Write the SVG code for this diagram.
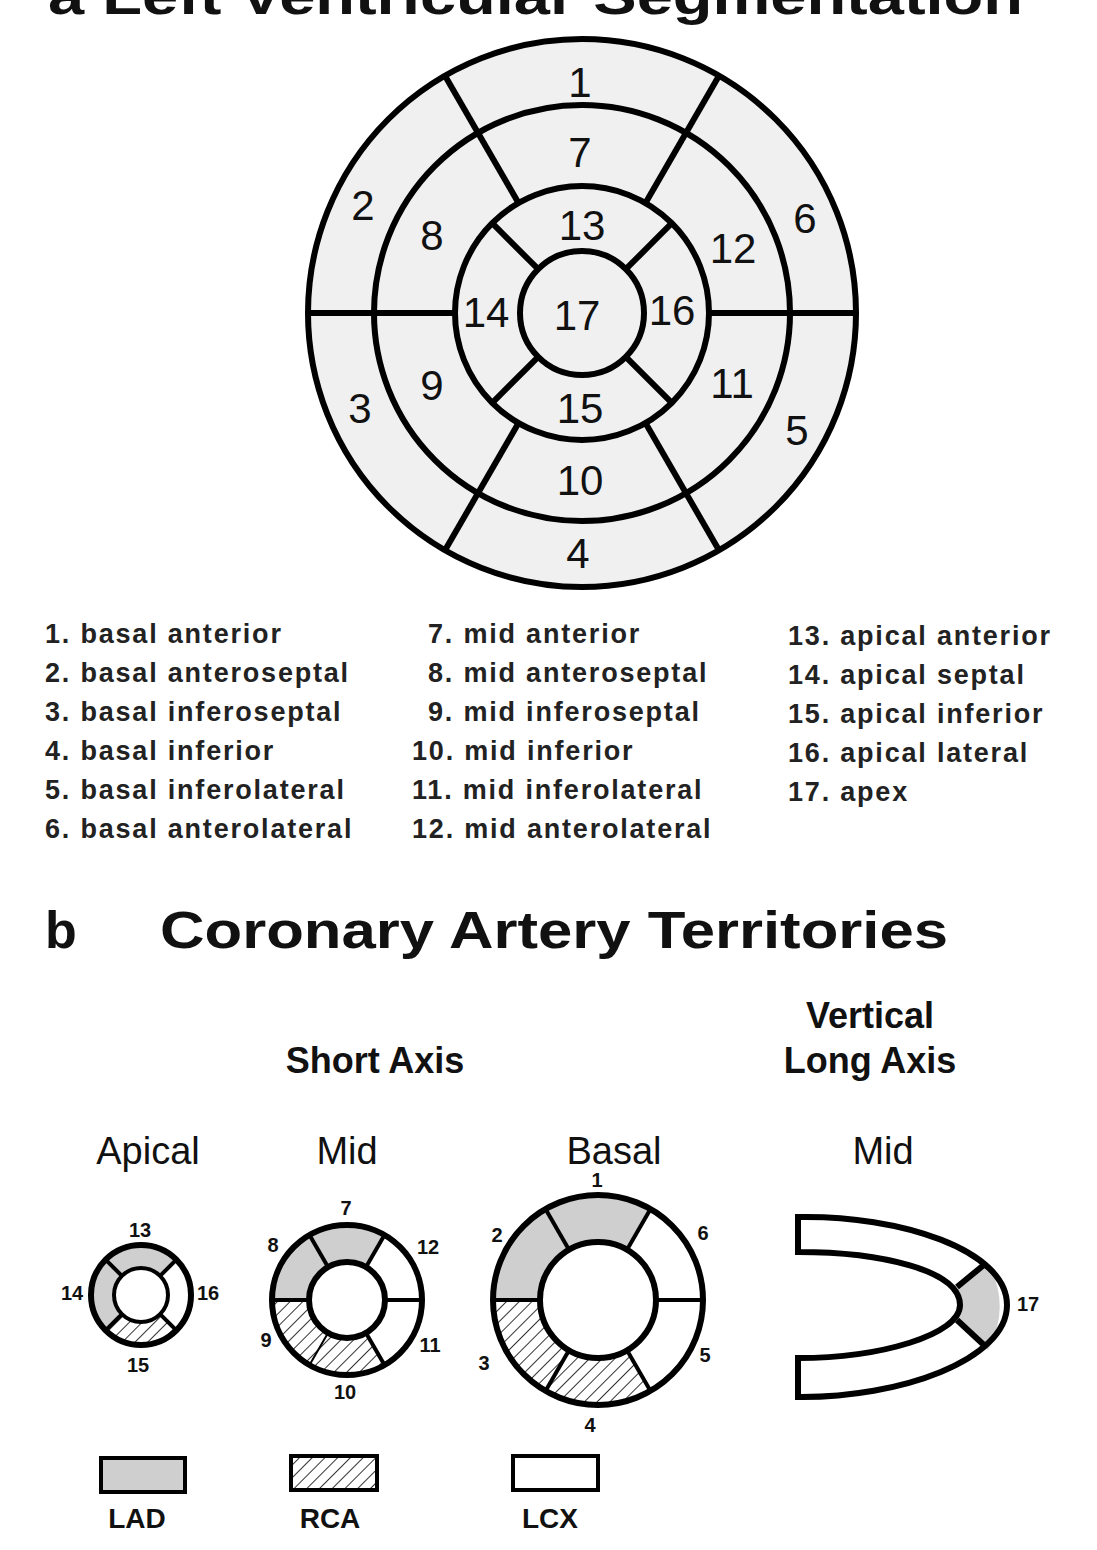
<svg xmlns="http://www.w3.org/2000/svg" width="1097" height="1550" viewBox="0 0 1097 1550">
<style>
.t{font-family:"Liberation Sans",Arial,sans-serif;fill:#111}
.num{font-size:42px;text-anchor:middle}
.leg{font-size:27px;font-weight:bold;fill:#222;letter-spacing:1.8px}
.h{font-size:52px;font-weight:bold}
.sub{font-size:36px;font-weight:bold;text-anchor:middle}
.lvl{font-size:38px;text-anchor:middle}
.sm{font-size:20px;font-weight:bold;text-anchor:middle}
.k{stroke:#000;stroke-width:6;fill:none}
.k2{stroke:#000;stroke-width:4;fill:none}
.g{fill:#cfcfcf}
.hx{fill:url(#hatch)}
</style>
<defs>
<pattern id="hatch" width="9" height="9" patternUnits="userSpaceOnUse" patternTransform="rotate(45)">
<rect width="9" height="9" fill="#fff"/><line x1="0" y1="0" x2="0" y2="9" stroke="#000" stroke-width="1.6"/>
</pattern>
</defs>
<rect width="1097" height="1550" fill="#fff"/>
<text class="t h" x="48" y="14" font-size="56" textLength="975" lengthAdjust="spacingAndGlyphs">a  Left Ventricular Segmentation</text>
<g id="bullseye">
<circle cx="582" cy="313" r="274" style="fill:#f0f0f0"/>
<circle cx="582" cy="313" r="274" class="k"/>
<circle cx="582" cy="313" r="208" class="k"/>
<circle cx="582" cy="313" r="127" class="k"/>
<circle cx="582" cy="313" r="62" class="k"/>
<g class="k">
<line x1="709" y1="313" x2="856" y2="313"/><line x1="645.5" y1="203" x2="719" y2="75.7"/>
<line x1="518.5" y1="203" x2="445" y2="75.7"/><line x1="455" y1="313" x2="308" y2="313"/>
<line x1="518.5" y1="423" x2="445" y2="550.3"/><line x1="645.5" y1="423" x2="719" y2="550.3"/>
<line x1="625.8" y1="269.2" x2="671.8" y2="223.2"/><line x1="538.2" y1="269.2" x2="492.2" y2="223.2"/>
<line x1="538.2" y1="356.8" x2="492.2" y2="402.8"/><line x1="625.8" y1="356.8" x2="671.8" y2="402.8"/>
</g>
<g class="t num">
<text x="580" y="97">1</text><text x="580" y="167">7</text><text x="582" y="240">13</text>
<text x="363" y="220">2</text><text x="432" y="250">8</text><text x="486" y="327">14</text>
<text x="577" y="330">17</text><text x="672" y="325">16</text><text x="733" y="263">12</text>
<text x="805" y="233">6</text><text x="360" y="423">3</text><text x="432" y="400">9</text>
<text x="580" y="423">15</text><text x="732" y="398">11</text><text x="797" y="445">5</text>
<text x="580" y="495">10</text><text x="578" y="568">4</text>
</g>
</g>
<g id="legend-list" class="t leg">
<text x="45" y="643">1. basal anterior</text><text x="45" y="682">2. basal anteroseptal</text>
<text x="45" y="721">3. basal inferoseptal</text><text x="45" y="760">4. basal inferior</text>
<text x="45" y="799">5. basal inferolateral</text><text x="45" y="838">6. basal anterolateral</text>
<text x="428" y="643">7. mid anterior</text><text x="428" y="682">8. mid anteroseptal</text>
<text x="428" y="721">9. mid inferoseptal</text><text x="412" y="760">10. mid inferior</text>
<text x="412" y="799">11. mid inferolateral</text><text x="412" y="838">12. mid anterolateral</text>
<text x="788" y="645">13. apical anterior</text><text x="788" y="684">14. apical septal</text>
<text x="788" y="723">15. apical inferior</text><text x="788" y="762">16. apical lateral</text>
<text x="788" y="801">17. apex</text>
</g>
<text class="t h" x="45" y="948" font-size="56">b</text>
<text class="t h" x="160" y="948" font-size="56" textLength="788" lengthAdjust="spacingAndGlyphs">Coronary Artery Territories</text>
<text class="t sub" x="375" y="1073">Short Axis</text>
<text class="t sub" x="870" y="1028">Vertical</text>
<text class="t sub" x="870" y="1073">Long Axis</text>
<g class="t lvl"><text x="148" y="1164">Apical</text><text x="347" y="1164">Mid</text><text x="614" y="1164">Basal</text><text x="883" y="1164">Mid</text></g>
<g id="apical">
<circle cx="141" cy="1295" r="50" fill="#fff"/>
<path class="g" d="M176.4,1259.6 A50,50 0 0 0 105.6,1330.4 L121.9,1314.1 A27,27 0 0 1 160.1,1275.9 Z"/>
<path class="hx" d="M105.6,1330.4 A50,50 0 0 0 176.4,1330.4 L160.1,1314.1 A27,27 0 0 1 121.9,1314.1 Z"/>
<circle cx="141" cy="1295" r="50" class="k"/><circle cx="141" cy="1295" r="27" class="k2"/>
<g class="k2"><line x1="176.4" y1="1259.6" x2="160.1" y2="1275.9"/><line x1="105.6" y1="1259.6" x2="121.9" y2="1275.9"/><line x1="105.6" y1="1330.4" x2="121.9" y2="1314.1"/><line x1="176.4" y1="1330.4" x2="160.1" y2="1314.1"/></g>
<g class="t sm"><text x="140" y="1237">13</text><text x="72" y="1300">14</text><text x="208" y="1300">16</text><text x="138" y="1372">15</text></g>
</g>
<g id="mid">
<circle cx="347" cy="1300" r="75" fill="#fff"/>
<path class="g" d="M384.5,1235 A75,75 0 0 0 272,1300 L309,1300 A38,38 0 0 1 366,1267.1 Z"/>
<path class="hx" d="M272,1300 A75,75 0 0 0 384.5,1365 L366,1332.9 A38,38 0 0 1 309,1300 Z"/>
<circle cx="347" cy="1300" r="75" class="k"/><circle cx="347" cy="1300" r="38" class="k"/>
<g class="k2"><line x1="384.5" y1="1235" x2="366" y2="1267.1"/><line x1="309.5" y1="1235" x2="328" y2="1267.1"/><line x1="272" y1="1300" x2="309" y2="1300"/><line x1="422" y1="1300" x2="385" y2="1300"/><line x1="384.5" y1="1365" x2="366" y2="1332.9"/><line x1="309.5" y1="1365" x2="328" y2="1332.9" stroke-width="2"/></g>
<g class="t sm"><text x="346" y="1215">7</text><text x="273" y="1252">8</text><text x="428" y="1254">12</text><text x="266" y="1347">9</text><text x="430" y="1352">11</text><text x="345" y="1399">10</text></g>
</g>
<g id="basal">
<circle cx="598" cy="1300" r="105" fill="#fff"/>
<path class="g" d="M650.5,1209.1 A105,105 0 0 0 493,1300 L540,1300 A58,58 0 0 1 627,1249.8 Z"/>
<path class="hx" d="M493,1300 A105,105 0 0 0 650.5,1390.9 L627,1350.2 A58,58 0 0 1 540,1300 Z"/>
<circle cx="598" cy="1300" r="105" class="k"/><circle cx="598" cy="1300" r="58" class="k"/>
<g class="k2"><line x1="650.5" y1="1209.1" x2="627" y2="1249.8"/><line x1="545.5" y1="1209.1" x2="569" y2="1249.8"/><line x1="493" y1="1300" x2="540" y2="1300"/><line x1="703" y1="1300" x2="656" y2="1300"/><line x1="650.5" y1="1390.9" x2="627" y2="1350.2"/><line x1="545.5" y1="1390.9" x2="569" y2="1350.2"/></g>
<g class="t sm"><text x="597" y="1187">1</text><text x="497" y="1242">2</text><text x="703" y="1240">6</text><text x="484" y="1370">3</text><text x="705" y="1362">5</text><text x="590" y="1432">4</text></g>
</g>
<g id="longaxis">
<path class="g" d="M987,1262 Q1012,1305 988,1350 L957,1320 Q966,1304 957,1287 Z"/>
<path class="k" d="M798,1217 C900,1215 1007,1250 1007,1305 C1007,1360 900,1398 798,1397 L798,1358 C880,1358 960,1335 960,1305 C960,1270 880,1252 798,1252 Z"/>
<g class="k"><line x1="957" y1="1287" x2="985" y2="1264"/><line x1="957" y1="1320" x2="985" y2="1346"/></g>
<text class="t sm" x="1028" y="1311">17</text>
</g>
<g id="key">
<rect x="101" y="1458" width="84" height="34" class="g"/><rect x="101" y="1458" width="84" height="34" class="k2"/>
<rect x="291" y="1456" width="86" height="34" class="hx"/><rect x="291" y="1456" width="86" height="34" class="k2"/>
<rect x="513" y="1456" width="85" height="34" class="k2"/>
<g class="t" font-size="28" font-weight="bold" text-anchor="middle"><text x="137" y="1528">LAD</text><text x="330" y="1528">RCA</text><text x="550" y="1528">LCX</text></g>
</g>
</svg>
